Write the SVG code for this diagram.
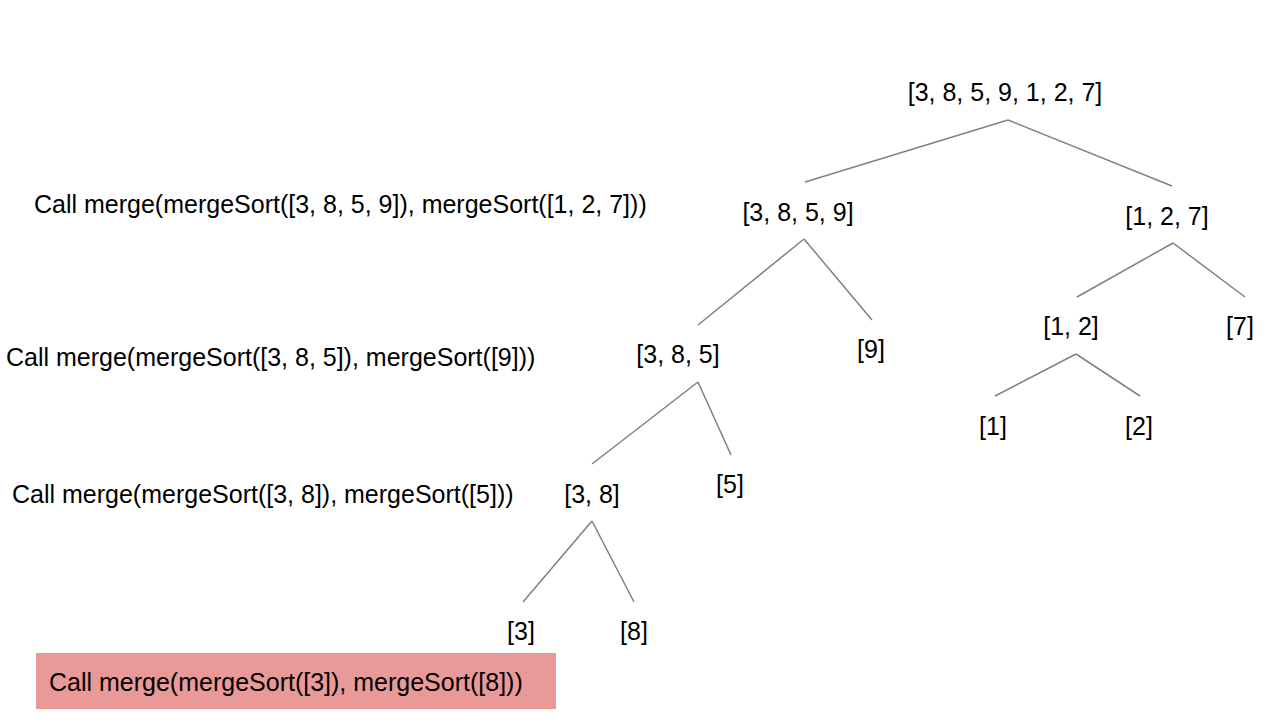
<svg xmlns="http://www.w3.org/2000/svg" width="1287" height="724" viewBox="0 0 1287 724">
<style>
text{font-family:"Liberation Sans",Arial,sans-serif;font-size:25px;fill:#000}
.n{text-anchor:middle}
line{stroke:#808080;stroke-width:1.5}
</style>
<rect width="1287" height="724" fill="#fff"/>
<g id="connectors">
<line x1="1008" y1="120" x2="805" y2="182"/>
<line x1="1008" y1="120" x2="1172" y2="186"/>
<line x1="804" y1="239" x2="698" y2="325"/>
<line x1="804" y1="239" x2="872" y2="320"/>
<line x1="1173" y1="243" x2="1077" y2="297"/>
<line x1="1173" y1="243" x2="1245" y2="297"/>
<line x1="1076" y1="354" x2="995" y2="396"/>
<line x1="1076" y1="354" x2="1140" y2="396"/>
<line x1="698" y1="382" x2="592" y2="464"/>
<line x1="698" y1="382" x2="731" y2="455"/>
<line x1="592" y1="521" x2="523" y2="602"/>
<line x1="592" y1="521" x2="634" y2="602"/>
</g>
<g id="n-root"><text class="n" x="1005" y="101">[3, 8, 5, 9, 1, 2, 7]</text></g>
<g id="n-3859"><text class="n" x="798" y="221">[3, 8, 5, 9]</text></g>
<g id="n-127"><text class="n" x="1167" y="225">[1, 2, 7]</text></g>
<g id="n-385"><text class="n" x="678" y="363">[3, 8, 5]</text></g>
<g id="n-9"><text class="n" x="871" y="358">[9]</text></g>
<g id="n-12"><text class="n" x="1071" y="335">[1, 2]</text></g>
<g id="n-7"><text class="n" x="1240" y="335">[7]</text></g>
<g id="n-1"><text class="n" x="993" y="435">[1]</text></g>
<g id="n-2"><text class="n" x="1139" y="435">[2]</text></g>
<g id="n-38"><text class="n" x="592" y="503">[3, 8]</text></g>
<g id="n-5"><text class="n" x="730" y="493">[5]</text></g>
<g id="n-3"><text class="n" x="521" y="640">[3]</text></g>
<g id="n-8"><text class="n" x="634" y="640">[8]</text></g>
<g id="label1"><text x="34" y="213">Call merge(mergeSort([3, 8, 5, 9]), mergeSort([1, 2, 7]))</text></g>
<g id="label2"><text x="6" y="366">Call merge(mergeSort([3, 8, 5]), mergeSort([9]))</text></g>
<g id="label3"><text x="12" y="503">Call merge(mergeSort([3, 8]), mergeSort([5]))</text></g>
<g id="label4"><rect x="36" y="653" width="520" height="56" fill="#ea9999"/><text x="49" y="691">Call merge(mergeSort([3]), mergeSort([8]))</text></g>
</svg>
